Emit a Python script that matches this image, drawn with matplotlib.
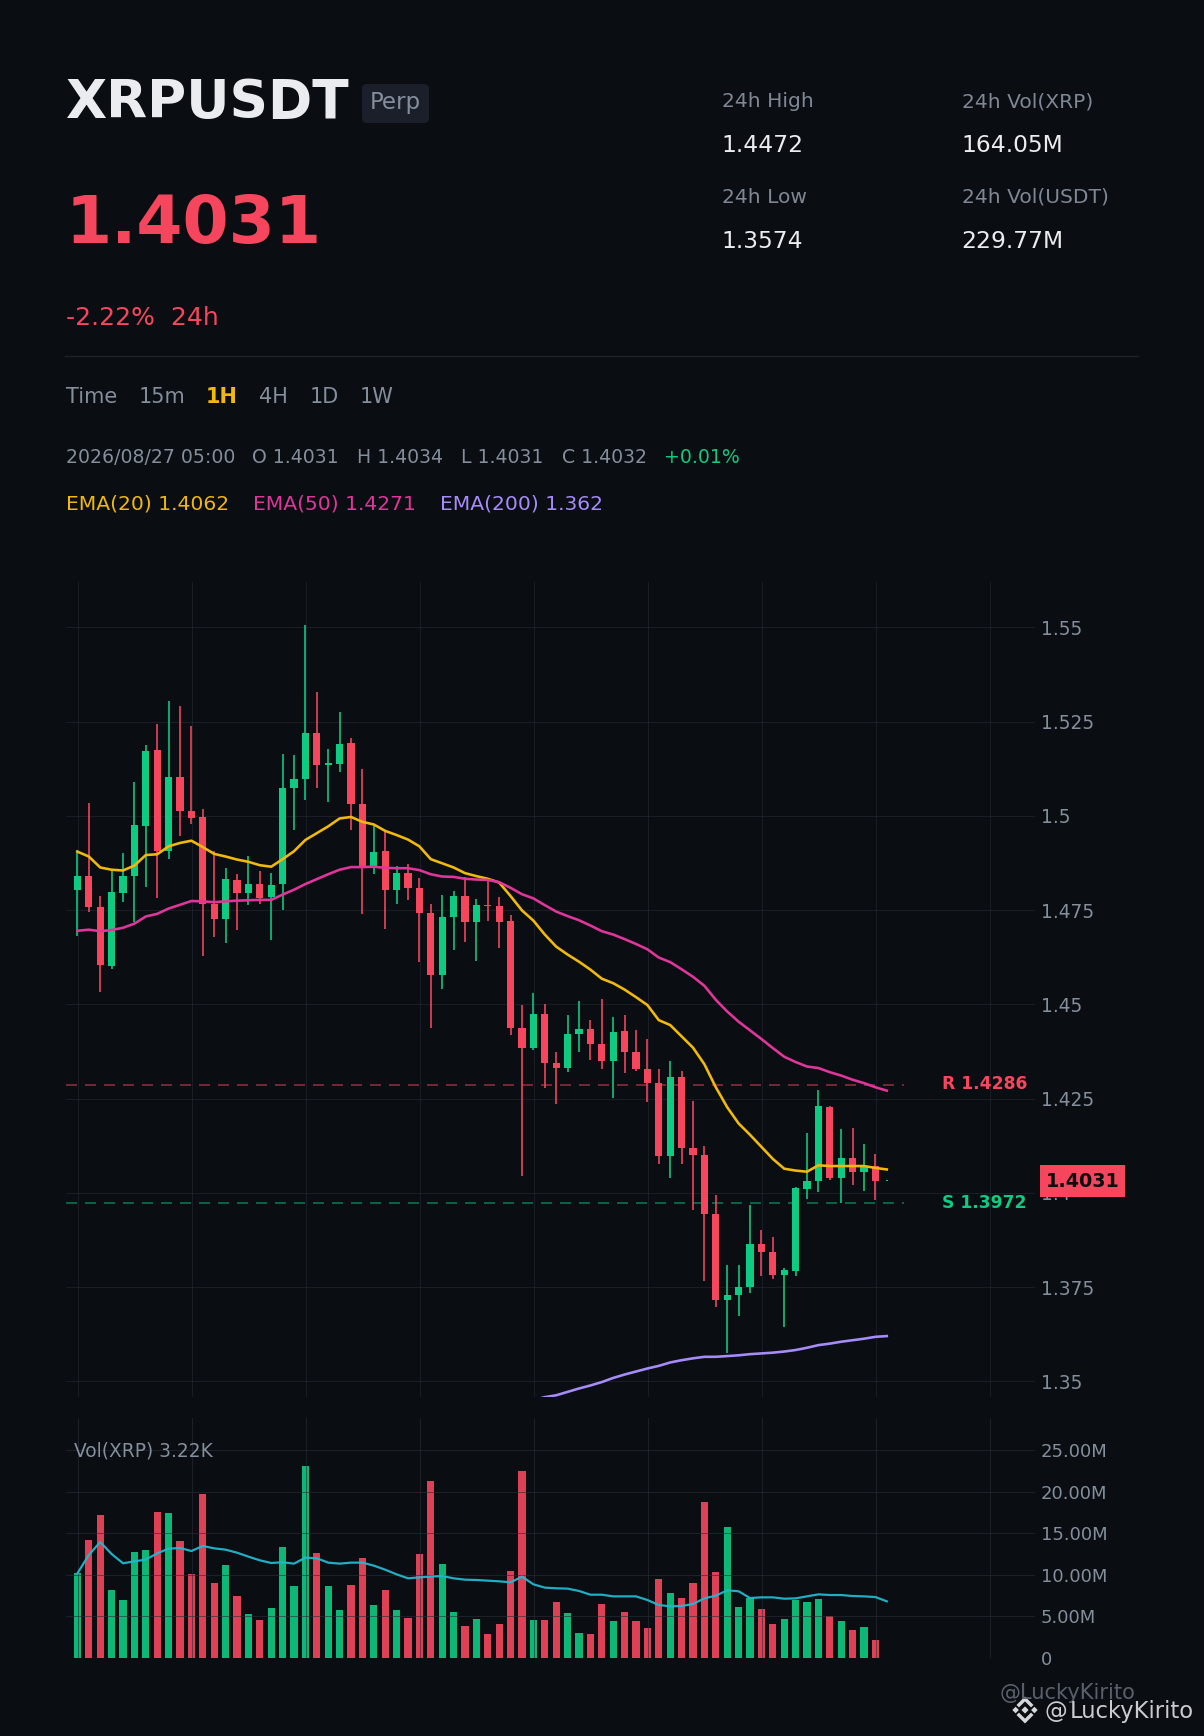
import matplotlib
matplotlib.use("Agg")
import matplotlib.pyplot as plt
from matplotlib.patches import FancyBboxPatch, Polygon, Rectangle

plt.rcParams['font.family'] = ['DejaVu Sans']

# ---------- data ----------
opens = [1.4804,1.4841,1.4759,1.4602,1.4796,1.4841,1.4974,1.5175,1.4907,1.5104,1.5013,1.4998,
         1.4767,1.4727,1.4830,1.4796,1.4820,1.4785,1.4820,1.5075,1.5098,1.5220,1.5136,1.5138,
         1.5194,1.5032,1.4868,1.4907,1.4804,1.4849,1.4809,1.4743,1.4578,1.4732,1.4788,1.4719,
         1.4764,1.4761,1.4722,1.4438,1.4385,1.4475,1.4345,1.4332,1.4422,1.4435,1.4395,1.4350,
         1.4430,1.4374,1.4329,1.4292,1.4098,1.4308,1.4120,1.4100,1.3943,1.3715,1.3728,1.3750,
         1.3864,1.3842,1.3781,1.3792,1.4009,1.4031,1.4227,1.4039,1.4092,1.4055,1.4071,1.4031]
highs = [1.4910,1.5034,1.4788,1.4857,1.4901,1.5090,1.5189,1.5244,1.5305,1.5292,1.5239,1.5019,
         1.4907,1.4862,1.4846,1.4894,1.4854,1.4849,1.5165,1.5162,1.5507,1.5329,1.5178,1.5276,
         1.5207,1.5125,1.4972,1.4958,1.4868,1.4873,1.4836,1.4767,1.4791,1.4801,1.4838,1.4780,
         1.4828,1.4785,1.4738,1.4499,1.4531,1.4502,1.4374,1.4472,1.4509,1.4459,1.4515,1.4467,
         1.4472,1.4433,1.4409,1.4329,1.4350,1.4324,1.4244,1.4124,1.3994,1.3808,1.3808,1.3967,
         1.3901,1.3882,1.3800,1.4015,1.4158,1.4272,1.4229,1.4169,1.4171,1.4129,1.4102,1.4034]
lows = [1.4682,1.4746,1.4533,1.4594,1.4772,1.4719,1.4812,1.4783,1.4886,1.4947,1.4979,1.4629,
        1.4679,1.4663,1.4698,1.4764,1.4767,1.4671,1.4751,1.4963,1.5043,1.5075,1.5037,1.5117,
        1.4963,1.4740,1.4846,1.4700,1.4767,1.4777,1.4613,1.4438,1.4541,1.4645,1.4666,1.4616,
        1.4722,1.4650,1.4419,1.4045,1.4380,1.4279,1.4236,1.4321,1.4374,1.4353,1.4329,1.4252,
        1.4319,1.4324,1.4242,1.4077,1.4040,1.4077,1.3955,1.3765,1.3696,1.3574,1.3673,1.3734,
        1.3779,1.3771,1.3643,1.3779,1.3983,1.4002,1.4033,1.3972,1.4020,1.4004,1.3980,1.4031]
closes = [1.4841,1.4759,1.4605,1.4799,1.4841,1.4976,1.5173,1.4907,1.5104,1.5013,1.4995,1.4767,
          1.4727,1.4833,1.4796,1.4820,1.4783,1.4817,1.5075,1.5098,1.5220,1.5136,1.5141,1.5191,
          1.5032,1.4866,1.4905,1.4804,1.4849,1.4809,1.4743,1.4578,1.4732,1.4788,1.4719,1.4764,
          1.4762,1.4719,1.4438,1.4385,1.4475,1.4345,1.4332,1.4422,1.4435,1.4395,1.4350,1.4427,
          1.4374,1.4329,1.4292,1.4098,1.4308,1.4120,1.4101,1.3943,1.3715,1.3728,1.3750,1.3864,
          1.3842,1.3781,1.3795,1.4012,1.4031,1.4230,1.4039,1.4092,1.4055,1.4071,1.4031,1.4032]
ema20 = [1.4905,1.4892,1.4863,1.4857,1.4855,1.4868,1.4896,1.4898,1.4919,1.4928,1.4934,1.4917,
         1.4899,1.4892,1.4884,1.4878,1.4869,1.4865,1.4885,1.4906,1.4936,1.4954,1.4972,1.4993,
         1.4997,1.4984,1.4977,1.4960,1.4949,1.4937,1.4919,1.4885,1.4874,1.4863,1.4848,1.4840,
         1.4833,1.4823,1.4787,1.4749,1.4722,1.4685,1.4653,1.4632,1.4613,1.4592,1.4568,1.4556,
         1.4539,1.4519,1.4498,1.4458,1.4445,1.4415,1.4385,1.4341,1.4280,1.4227,1.4184,1.4154,
         1.4122,1.4090,1.4064,1.4059,1.4056,1.4073,1.4071,1.4071,1.4071,1.4071,1.4066,1.4062]
ema50 = [1.4695,1.4698,1.4694,1.4697,1.4703,1.4714,1.4733,1.4740,1.4754,1.4764,1.4774,1.4773,
         1.4771,1.4773,1.4775,1.4776,1.4777,1.4777,1.4791,1.4804,1.4819,1.4832,1.4845,1.4857,
         1.4864,1.4864,1.4865,1.4862,1.4861,1.4861,1.4856,1.4845,1.4839,1.4838,1.4833,1.4831,
         1.4830,1.4824,1.4809,1.4792,1.4781,1.4763,1.4746,1.4734,1.4723,1.4709,1.4694,1.4685,
         1.4673,1.4660,1.4646,1.4624,1.4612,1.4593,1.4573,1.4549,1.4512,1.4481,1.4454,1.4431,
         1.4408,1.4384,1.4361,1.4347,1.4335,1.4331,1.4320,1.4311,1.4300,1.4291,1.4280,1.4271]
ema200_start = 40
ema200 = [1.3450,1.3458,1.3463,1.3472,1.3481,1.3489,1.3498,1.3509,1.3518,1.3526,1.3534,1.3541,
          1.3550,1.3556,1.3561,1.3565,1.3565,1.3567,1.3569,1.3572,1.3574,1.3576,1.3579,1.3583,
          1.3589,1.3596,1.3600,1.3605,1.3609,1.3613,1.3618,1.3620]
volume = [10.19,14.2,17.2,8.19,6.98,12.76,13.0,17.58,17.46,14.09,10.11,19.74,9.03,11.2,7.46,5.3,
          4.57,6.02,13.36,8.67,23.11,12.64,8.67,5.78,8.79,12.04,6.38,8.19,5.78,4.82,12.52,21.31,
          11.32,5.54,3.85,4.7,2.89,4.09,10.47,22.51,4.57,4.57,6.74,5.42,3.01,2.89,6.5,4.45,5.54,
          4.45,3.61,9.51,7.83,7.22,9.03,18.78,10.35,15.77,6.14,7.22,5.9,4.09,4.7,6.98,6.74,7.1,
          5.06,4.45,3.37,3.73,2.17,0.00322]
vol_ma = [10.19,12.4,13.96,12.52,11.4,11.64,11.84,12.6,13.16,13.24,12.88,13.48,13.2,13.04,12.68,
          12.2,11.76,11.44,11.52,11.36,12.08,12.0,11.48,11.36,11.48,11.48,11.12,10.63,10.07,9.59,
          9.71,9.79,9.87,9.59,9.43,9.39,9.31,9.23,9.11,9.79,8.87,8.47,8.39,8.35,8.07,7.62,7.62,
          7.42,7.42,7.42,6.98,6.38,6.22,6.26,6.5,7.18,7.5,8.15,8.03,7.22,7.3,7.3,7.14,7.18,7.42,
          7.66,7.58,7.58,7.46,7.42,7.34,6.82]
resistance = 1.4286
support = 1.3972
last_price = 1.4031
price_ticks = [1.35,1.375,1.4,1.425,1.45,1.475,1.5,1.525,1.55]
price_tick_labels = ['1.35','1.375','1.4','1.425','1.45','1.475','1.5','1.525','1.55']
vol_ticks = [0,5,10,15,20,25]
vol_tick_labels = ['0','5.00M','10.00M','15.00M','20.00M','25.00M']
x_grid = [0,10,20,30,40,50,60,70,80]
timeframes = ['Time','15m','1H','4H','1D','1W']

# ---------- style ----------
BG = '#0A0D11'; UP = '#0ECB81'; DOWN = '#F6465D'; MUTED = '#848E9C'; YEL = '#F0B90B'
PINK = '#E0359A'; PURP = '#A78BFA'; CYAN = '#22B8CF'; WHITE = '#EAECEF'; GRID = '#2A2D3A'
W, H = 1204, 1736
PX = 72 / 100

fig = plt.figure(figsize=(W / 100, H / 100), dpi=100, facecolor=BG)

def axes_px(l, t, r, b):
    return fig.add_axes([l / W, 1 - b / H, (r - l) / W, (b - t) / H], facecolor=BG)

def style(ax, label_size, grid_alpha):
    for s in ax.spines.values():
        s.set_visible(False)
    ax.set_xlim(-1, 84)
    ax.yaxis.tick_right()
    ax.tick_params(axis='both', length=0, pad=4.3, labelsize=label_size, labelcolor=MUTED)
    ax.set_xticks([v + 0.06 for v in x_grid])
    ax.set_xticklabels([])
    ax.grid(True, color=GRID, alpha=grid_alpha, lw=1 * PX)

# ---------- price panel ----------
ax = axes_px(66, 582, 1035, 1396.7)
style(ax, 13.4, 0.5)
ax.set_axisbelow(True)
ax.set_ylim(1.34592, 1.56202)
ax.set_yticks(price_ticks)
ax.set_yticklabels(price_tick_labels)
idx = list(range(len(opens)))
cols = [UP if c >= o else DOWN for o, c in zip(opens, closes)]
dash = (0, (11 / 1.8, 8 / 1.8))
ax.hlines(resistance, -1, 72.5, color=DOWN, alpha=0.5, lw=1.8 * PX, linestyles=dash, zorder=1.5)
ax.hlines(support, -1, 72.5, color=UP, alpha=0.5, lw=1.8 * PX, linestyles=dash, zorder=1.5)
ax.vlines(idx, lows, highs, colors=cols, lw=1.9 * PX, alpha=0.85, zorder=2)
widths = [0.62] * (len(idx) - 1) + [0.18]
ax.bar(idx, [max(abs(c - o), 0.00022) for o, c in zip(opens, closes)],
       bottom=[min(o, c) for o, c in zip(opens, closes)], width=widths, color=cols, lw=0, zorder=3)
ax.plot(idx, ema20, color=YEL, lw=2.6 * PX, zorder=4)
ax.plot(idx, ema50, color=PINK, lw=2.6 * PX, zorder=4)
ax.plot(range(ema200_start, ema200_start + len(ema200)), ema200, color=PURP, lw=2.6 * PX, zorder=4)

# ---------- volume panel ----------
av = axes_px(66, 1418, 1035, 1658)
style(av, 13.0, 0.6)
av.set_axisbelow(False)
av.set_ylim(0, 28.89)
av.set_yticks(vol_ticks)
av.set_yticklabels(vol_tick_labels)
av.bar(idx, volume, width=0.62, color=cols, alpha=0.9, lw=0, zorder=1)
av.plot(idx, vol_ma, color=CYAN, lw=2.2 * PX, alpha=0.95, zorder=5)

# ---------- overlay in pixel coordinates ----------
ov = fig.add_axes([0, 0, 1, 1], facecolor='none', zorder=10)
ov.set_xlim(0, W); ov.set_ylim(H, 0); ov.axis('off')

def t(x, y, s, size, color, weight='normal', ha='left', va='baseline', **kw):
    return ov.text(x, y, s, fontsize=size, color=color, fontweight=weight, ha=ha, va=va, **kw)

t(66, 118, 'XRPUSDT', 38.4, WHITE, 'bold')
ov.add_patch(FancyBboxPatch((365, 87), 61, 33, boxstyle='round,pad=3,rounding_size=5', fc='#1B1F29', ec='none'))
t(369.5, 109, 'Perp', 16.5, MUTED)
t(66, 243.5, '1.4031', 47.8, DOWN, 'bold')
t(66, 325, '-2.22%  24h', 18, DOWN)
ov.plot([65, 1138], [355.7, 355.7], color='#1E232B', lw=1.4 * PX)

for x, lbl, y1, val, y2 in [(722, '24h High', 107.3, '1.4472', 152), (722, '24h Low', 202.7, '1.3574', 247.5),
                            (962, '24h Vol(XRP)', 107.3, '164.05M', 152), (962, '24h Vol(USDT)', 202.7, '229.77M', 247.5)]:
    t(x, y1, lbl, 14.6, '#7F8794')
    t(x - 0.5, y2, val, 16.8, WHITE)

for x, s in zip([66, 138.5, 206, 259, 309.5, 359.5], timeframes):
    if s == '1H':
        t(x, 403, s, 15, YEL, 'bold')
    else:
        t(x, 403, s, 15, MUTED)

for x, s, c in [(66, '2026/08/27 05:00', MUTED), (252, 'O 1.4031', MUTED), (357, 'H 1.4034', MUTED),
                (461, 'L 1.4031', MUTED), (561.5, 'C 1.4032', MUTED), (664.5, '+0.01%', UP)]:
    t(x, 462.7, s, 13.55, c)

for x, s, c in [(66, 'EMA(20) 1.4062', YEL), (253, 'EMA(50) 1.4271', PINK), (440.5, 'EMA(200) 1.362', PURP)]:
    t(x, 509.5, s, 14.6, c)

t(1027, 1089, 'R 1.4286', 12.3, DOWN, 'bold', ha='right')
t(1027, 1208, 'S 1.3972', 12.3, UP, 'bold', ha='right')
ov.add_patch(Rectangle((1040, 1165), 84.5, 31.7, fc=DOWN, ec='none'))
t(1082.5, 1179.5, f'{last_price:.4f}', 13.8, '#0B0E11', 'bold', ha='center', va='center_baseline')
t(74, 1456.7, 'Vol(XRP) 3.22K', 13.4, MUTED)

t(1000, 1699, '@LuckyKirito', 15.1, '#5A606B')
t(1045, 1718, '@', 16.3, '#C9CBCF')
t(1069.5, 1718, 'LuckyKirito', 16.3, '#C9CBCF')
cx, cy = 1025, 1710
LOGO = '#D6D7D9'
for dx, dy, r in [(0, 0, 3.6), (-9.4, 0, 3.3), (9.4, 0, 3.3)]:
    ov.add_patch(Polygon([(cx + dx, cy + dy - r), (cx + dx + r, cy + dy), (cx + dx, cy + dy + r), (cx + dx - r, cy + dy)], fc=LOGO, ec='none'))
for sgn in (-1, 1):
    ov.add_patch(Polygon([(cx, cy + sgn * 13.5), (cx + 8.5, cy + sgn * 5), (cx + 6, cy + sgn * 2.6), (cx, cy + sgn * 8.6),
                          (cx - 6, cy + sgn * 2.6), (cx - 8.5, cy + sgn * 5)], fc=LOGO, ec='none'))

fig.savefig('out.png', dpi=100, facecolor=BG)
